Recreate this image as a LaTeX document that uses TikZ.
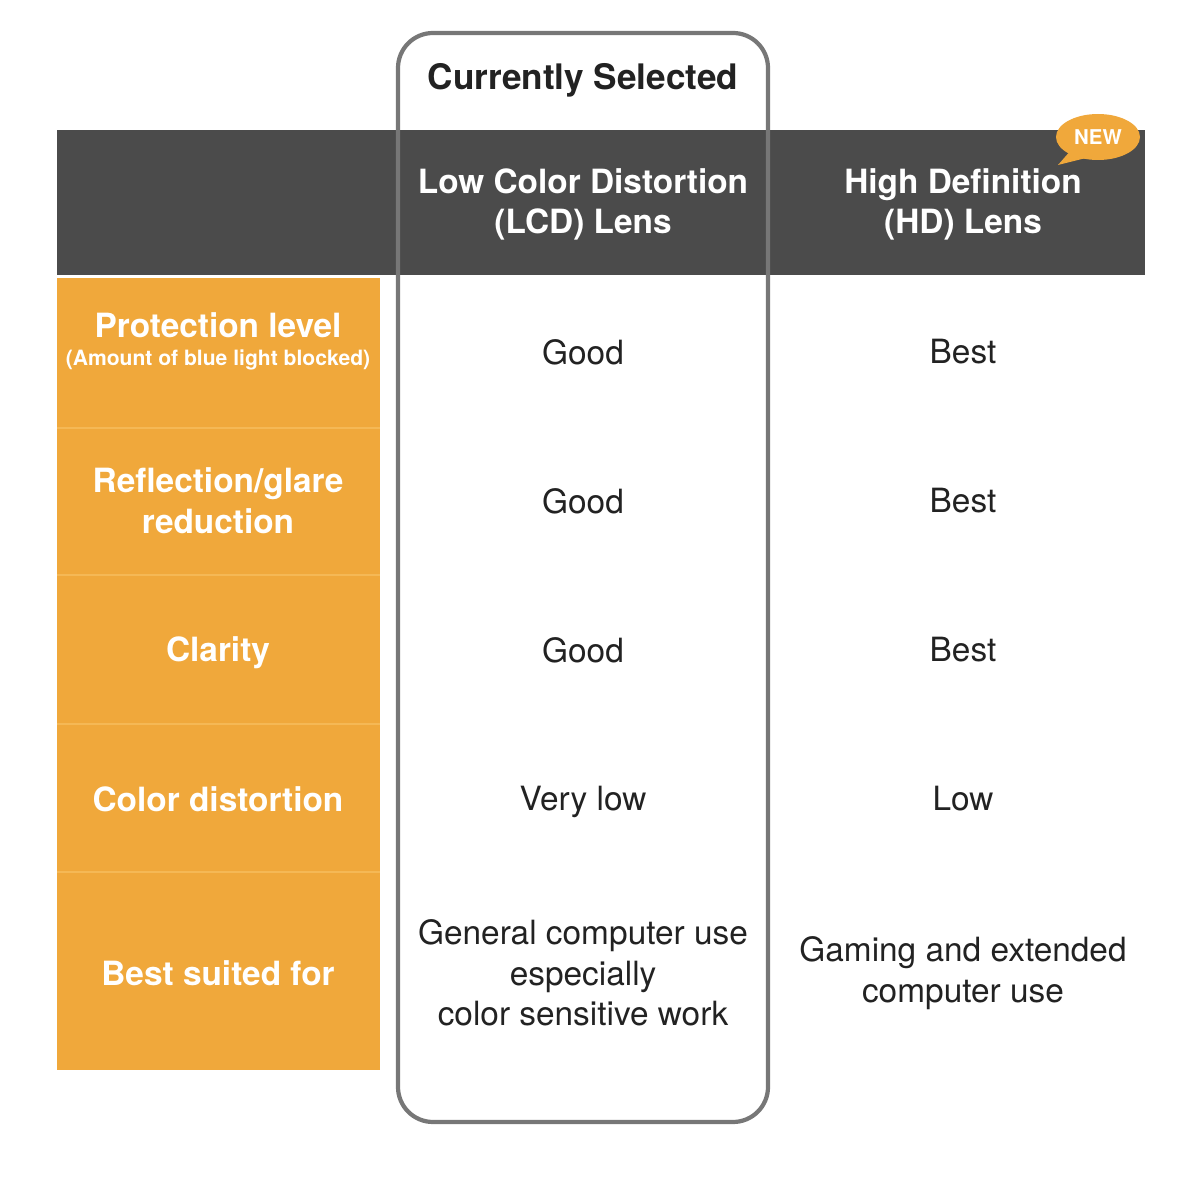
\documentclass[tikz,border=0pt]{standalone}
\usepackage{fontspec}
\setmainfont{TeX Gyre Heros}
\usetikzlibrary{calc}

\definecolor{headgray}{HTML}{4B4B4B}
\definecolor{lensorange}{HTML}{F0A83B}
\definecolor{seporange}{HTML}{F5B855}
\definecolor{framegray}{HTML}{777777}
\definecolor{bodytext}{HTML}{222222}

\begin{document}
\begin{tikzpicture}[
  headtext/.style={text=white,font=\fontsize{9.5}{11.4}\selectfont\bfseries,align=center},
  rowlabel/.style={text=white,font=\fontsize{9.5}{11.6}\selectfont\bfseries,align=center},
  cellvalue/.style={text=bodytext,font=\fontsize{9.5}{11.6}\selectfont,align=center}]

\useasboundingbox (0,0) rectangle (12,12);

\coordinate (HA) at (0.57,10.70);
\coordinate (HB) at (11.45,9.25);
\coordinate (OA) at (0.57,9.22);
\coordinate (OB) at (3.80,1.30);
\coordinate (FA) at (3.98,11.67);
\coordinate (FB) at (7.68,0.78);

\fill[headgray] (HA) rectangle (HB);
\fill[lensorange] (OA) rectangle (OB);
\foreach \y in {7.72,6.25,4.76,3.28}
  \draw[seporange,line width=0.6pt] (0.57,\y) -- (3.80,\y);
\draw[framegray,line width=1.2pt,rounded corners=0.35cm] (FA) rectangle (FB);

\coordinate (BC) at (10.98,10.63);
\fill[lensorange] (BC) ellipse (0.42 and 0.23);
\fill[lensorange] ($(BC)+(-0.26,-0.12)$) -- ($(BC)+(-0.08,-0.2)$) -- ($(BC)+(-0.40,-0.28)$) -- cycle;
\node[text=white,font=\fontsize{5.8}{7}\selectfont\bfseries] (new) at (BC) {NEW};

\node[text=bodytext,font=\fontsize{10}{12}\selectfont\bfseries] (sel) at (5.83,11.20) {Currently Selected};
\node[headtext] (hlcd) at (5.83,9.96) {Low Color Distortion\\(LCD) Lens};
\node[headtext] (hhd) at (9.63,9.96) {High Definition\\(HD) Lens};

\node[rowlabel] (prot) at (2.18,8.75) {Protection level};
\node[text=white,font=\fontsize{6}{7}\selectfont\bfseries] (protsub) at (2.18,8.40) {(Amount of blue light blocked)};
\node[rowlabel] (refl) at (2.18,6.99) {Reflection/glare\\reduction};
\node[rowlabel] (clar) at (2.18,5.47) {Clarity};
\node[rowlabel] (dist) at (2.18,4.01) {Color distortion};
\node[rowlabel] (suit) at (2.18,2.27) {Best suited for};

\node[cellvalue] (protlcd) at (5.83,8.48) {Good};
\node[cellvalue] (prothd) at (9.63,8.48) {Best};
\node[cellvalue] (refllcd) at (5.83,6.99) {Good};
\node[cellvalue] (reflhd) at (9.63,6.99) {Best};
\node[cellvalue] (clarlcd) at (5.83,5.50) {Good};
\node[cellvalue] (clarhd) at (9.63,5.50) {Best};
\node[cellvalue] (distlcd) at (5.83,3.98) {Very low};
\node[cellvalue] (disthd) at (9.63,4.01) {Low};
\node[cellvalue] (suitlcd) at (5.83,2.27) {General computer use\\especially\\color sensitive work};
\node[cellvalue] (suithd) at (9.63,2.27) {Gaming and extended\\computer use};

\end{tikzpicture}
\end{document}
